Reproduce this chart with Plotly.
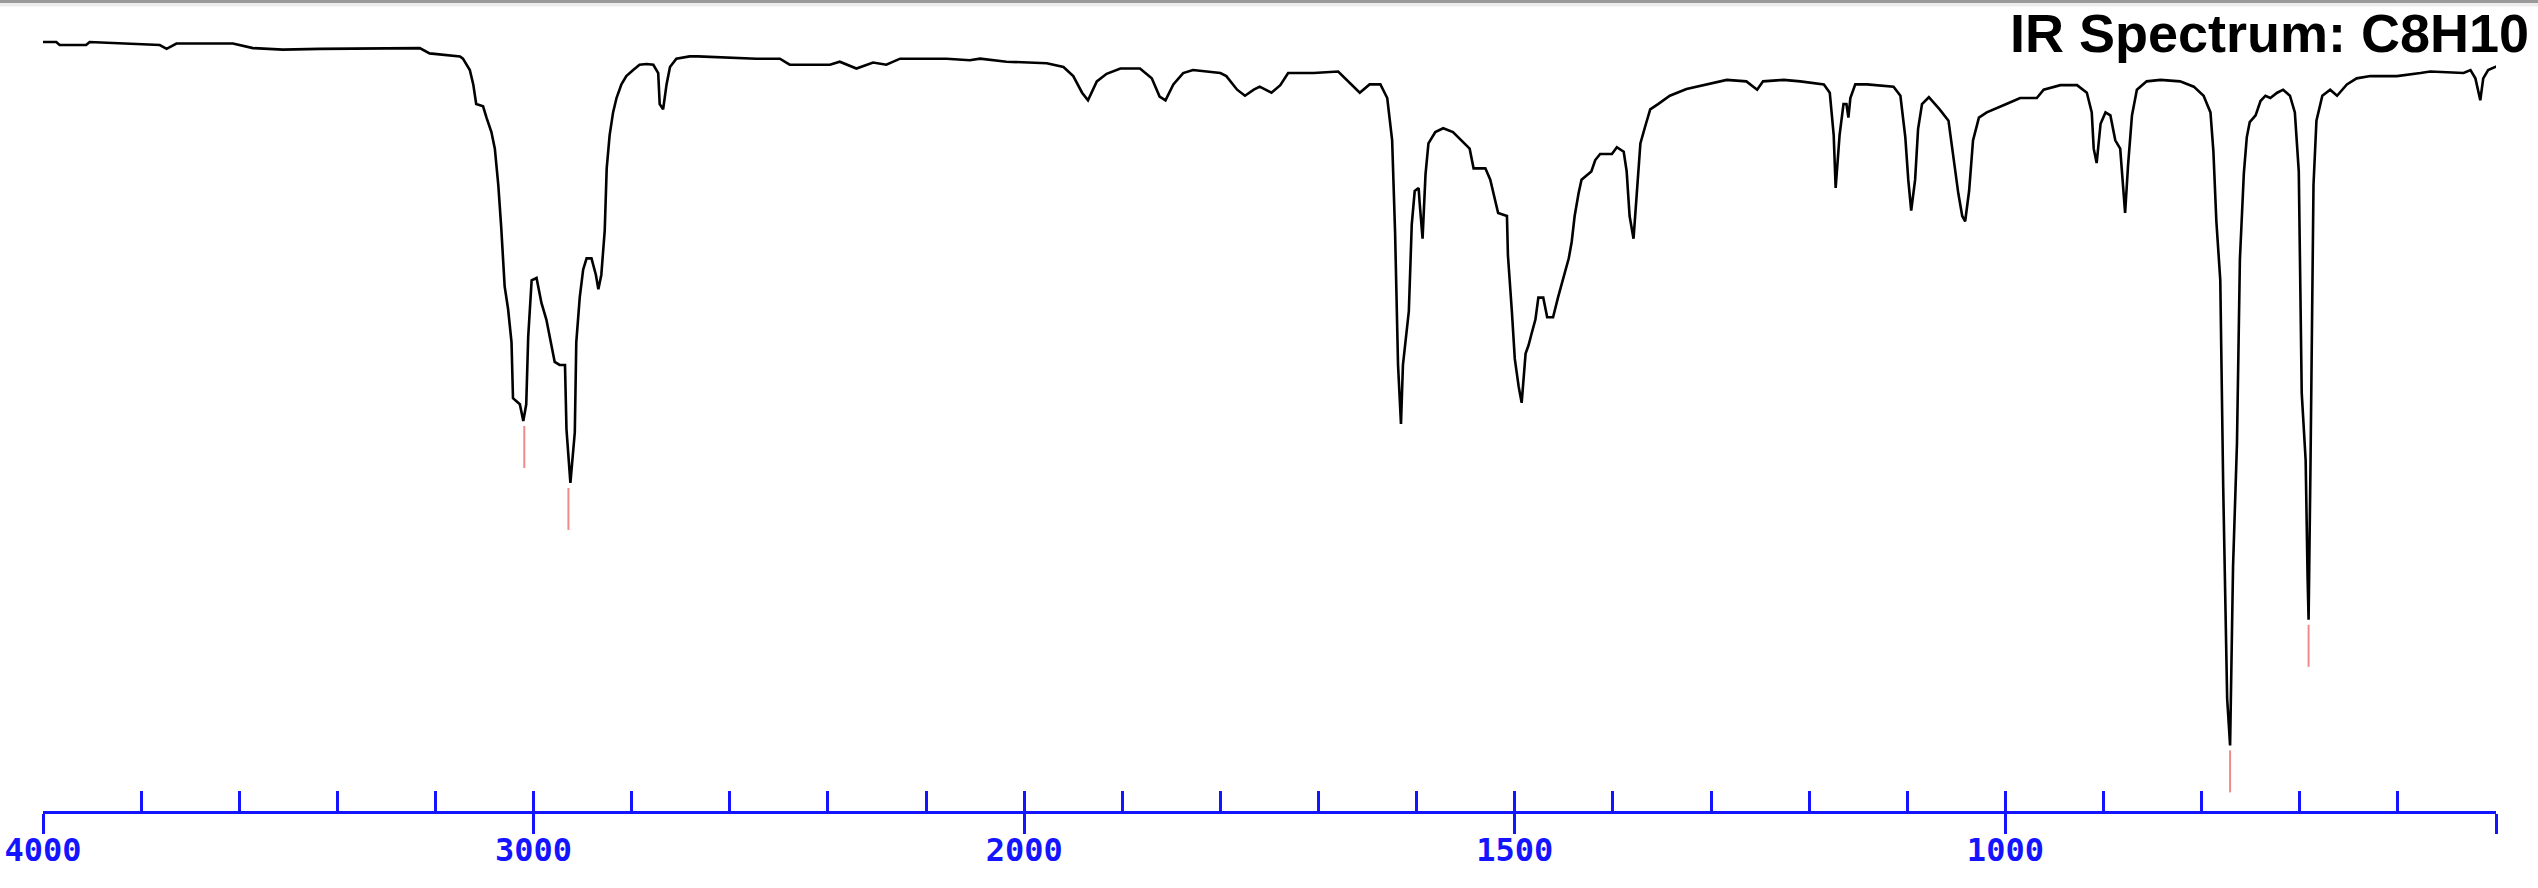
import numpy as np
import plotly.graph_objects as go

# ---------------- data ----------------
wavenumber = [
    4004, 3973, 3966, 3912, 3905, 3816, 3762, 3748, 3728, 3613, 3572, 3511, 3436,
    3232, 3212, 3150, 3144, 3130, 3123, 3117, 3103, 3096, 3086, 3079, 3072, 3066,
    3059, 3052, 3045, 3042, 3028, 3021, 3015, 3011, 3004, 2994, 2984, 2974, 2967,
    2957, 2947, 2936, 2933, 2925, 2916, 2913, 2906, 2899, 2892, 2882, 2873, 2868,
    2862, 2855, 2851, 2845, 2838, 2831, 2821, 2811, 2797, 2784, 2770,
    2756, 2746, 2743, 2736, 2729, 2722, 2709, 2682, 2665, 2546, 2498, 2478, 2430,
    2396, 2376, 2342, 2308, 2281, 2253, 2213, 2158, 2111,
    2090, 2036, 1977, 1960, 1950, 1941, 1935, 1926, 1916, 1902, 1882, 1870, 1862,
    1856, 1848, 1838, 1828, 1800, 1794, 1783, 1775, 1766, 1760, 1748, 1739, 1731,
    1705, 1680, 1668, 1658, 1648, 1637, 1630, 1625, 1622, 1619, 1616, 1614, 1608,
    1605, 1602, 1598, 1597, 1594, 1591, 1588, 1581, 1573, 1563, 1554, 1546, 1542,
    1530, 1525, 1520, 1517, 1508, 1507, 1503, 1500, 1496, 1493, 1489, 1486, 1483,
    1479, 1476, 1471, 1467, 1461, 1456, 1450, 1445, 1442, 1439, 1435, 1432, 1422,
    1418, 1413,
    1401, 1396, 1389, 1386, 1383, 1379, 1376, 1372, 1367, 1362, 1354, 1342, 1325,
    1304, 1284, 1264, 1253, 1247, 1226, 1209, 1185, 1179, 1175, 1173, 1169, 1165,
    1162, 1160, 1158, 1153, 1141, 1114, 1107, 1102, 1099, 1096, 1092, 1089, 1085,
    1078, 1067, 1058, 1053, 1048, 1044, 1041, 1037, 1033, 1027, 1019, 999, 985,
    968, 961, 944, 927, 917, 912, 910, 907, 903, 898, 893, 888, 883, 880, 878,
    875, 871, 866, 856, 842, 822, 808, 798, 791, 788, 785, 781, 778, 774, 771,
    768, 764, 761, 757, 754, 751, 745, 740, 735, 730, 723, 717, 710, 705, 701,
    698, 694, 692, 691, 689, 686, 683, 677, 669, 662, 652, 642, 628, 601, 577,
    567, 533, 526, 521, 516, 513, 508, 499,
]
transmittance = [
    99.7, 99.7, 99.3, 99.3, 99.7, 99.5, 99.3, 98.8, 99.5, 99.5, 98.9, 98.7, 98.8,
    98.9, 98.2, 97.8, 97.5, 96.0, 94.1, 91.5, 91.2, 89.7, 87.8, 85.6, 80.8, 75.2,
    67.4, 64.4, 60.0, 52.6, 51.8, 49.6, 51.8, 60.7, 68.2, 68.5, 65.2, 63.0, 60.7,
    57.4, 57.0, 57.0, 48.5, 41.4, 48.1, 60.0, 65.9, 69.6, 71.1, 71.1, 68.9, 67.0,
    68.9, 74.8, 83.0, 87.4, 90.4, 92.3, 94.1, 95.2, 96.0, 96.7, 96.8,
    96.7, 95.6, 91.5, 90.8, 94.1, 96.4, 97.5, 97.8, 97.8, 97.5, 97.5, 96.7, 96.7,
    96.7, 97.1, 96.2, 97.0, 96.7, 97.5, 97.5, 97.5, 97.3,
    97.5, 97.1, 96.9, 96.4, 95.2, 93.0, 92.0, 94.5, 95.5, 96.2, 96.2, 94.9, 92.5,
    92.0, 94.1, 95.6, 96.0, 95.6, 95.2, 93.4, 92.6, 93.4, 93.8, 93.0, 94.0, 95.6,
    95.6, 95.8, 94.3, 93.0, 94.1, 94.1, 92.3, 86.7, 74.5, 57.0, 49.2, 57.0, 64.1,
    75.6, 80.0, 80.4, 78.5, 73.7, 82.2, 86.3, 87.8, 88.3, 87.8, 86.7, 85.6, 83.0,
    83.0, 81.5, 78.9, 77.1, 76.7, 71.5, 64.1, 57.8, 54.1, 52.0, 58.5, 59.6, 61.1,
    63.0, 65.9, 65.9, 63.3, 63.3, 65.9, 68.9, 71.1, 73.3, 76.7, 79.7, 81.5, 82.6,
    84.1, 84.9,
    84.9, 85.8, 85.2, 82.6, 76.7, 73.7, 79.3, 86.3, 88.6, 90.8, 91.5, 92.6, 93.5,
    94.1, 94.7, 94.5, 93.4, 94.5, 94.7, 94.5, 94.1, 93.0, 87.4, 80.4, 87.4, 91.5,
    91.5, 89.7, 92.3, 94.1, 94.1, 93.8, 92.6, 87.1, 81.5, 77.4, 81.5, 88.2, 91.5,
    92.4, 90.8, 89.3, 84.5, 79.7, 76.7, 76.0, 80.0, 86.7, 89.7, 90.4, 91.5, 92.3,
    92.3, 93.4, 94.0, 94.0, 93.0, 90.4, 85.6, 83.7, 88.9, 90.4, 90.0, 86.7, 85.6,
    81.1, 77.1, 83.4, 90.0, 93.4, 94.5, 94.7, 94.5, 93.8, 92.6, 90.4, 85.2, 76.0,
    68.2, 40.7, 12.9, 6.7, 30.3, 46.6, 71.0, 82.3, 87.1, 89.1, 90.0, 91.9, 92.6,
    92.3, 93.0, 93.4, 92.6, 90.4, 82.6, 53.3, 44.4, 28.8, 23.3, 44.4, 80.8, 89.3,
    92.6, 93.4, 92.6, 94.1, 94.9, 95.2, 95.2, 95.6, 95.8, 95.6, 96.0, 94.9, 92.0,
    94.9, 96.0, 96.5,
]

peak_wavenumber = [3019, 2929, 771, 691]
peak_transmittance = [49.6, 41.4, 6.7, 23.3]

major_ticks = [4000, 3000, 2000, 1500, 1000, 500]
major_labels = ["4000", "3000", "2000", "1500", "1000", ""]
all_ticks = [4000, 3800, 3600, 3400, 3200, 3000, 2800, 2600, 2400, 2200, 2000,
             1900, 1800, 1700, 1600, 1500, 1400, 1300, 1200, 1100, 1000,
             900, 800, 700, 600, 500]

title_text = "IR Spectrum: C8H10"


# ------------- axis scale: 4000-2000 compressed 2x, 2000-500 linear -------------
def axis_pos(wn):
    wn = np.asarray(wn, dtype=float)
    return np.where(wn >= 2000, (4000 - wn) / 2.0, 1000 + (2000 - wn))


BLUE = "#1414ff"
X_RANGE = [0, 2500]
Y_RANGE = [-1.98, 105.26]
W, H = 2538, 888
ML, MR, MT, MB = 43, 42, 0, 77
plot_w = W - ML - MR
plot_h = H - MT - MB
px_per_T = plot_h / (Y_RANGE[1] - Y_RANGE[0])

fig = go.Figure()

fig.add_trace(go.Scatter(
    x=axis_pos(wavenumber), y=transmittance,
    mode="lines", line=dict(color="black", width=2.6),
    hoverinfo="skip", showlegend=False,
))

# red peak markers, sitting ~26 px below each minimum
marker_offset = 26 / px_per_T
fig.add_trace(go.Scatter(
    x=axis_pos(peak_wavenumber),
    y=[t - marker_offset for t in peak_transmittance],
    mode="markers",
    marker=dict(symbol="line-ns", size=30,
                line=dict(color="#f08a8a", width=2)),
    xaxis="x2", yaxis="y",
    hoverinfo="skip", showlegend=False,
))

tick_font = dict(family="DejaVu Sans Mono", size=32, color=BLUE, weight="bold")

fig.update_layout(
    width=W, height=H,
    margin=dict(l=ML, r=MR, t=MT, b=MB, pad=0),
    paper_bgcolor="white", plot_bgcolor="white",
    showlegend=False,
    xaxis=dict(
        range=X_RANGE, tickmode="array",
        tickvals=list(axis_pos(major_ticks)), ticktext=major_labels,
        ticks="outside", ticklen=20, tickwidth=3, tickcolor=BLUE,
        showline=True, linecolor=BLUE, linewidth=3,
        showgrid=False, zeroline=False, tickfont=tick_font,
        ticklabelstandoff=-11,
        fixedrange=True,
    ),
    xaxis2=dict(
        range=X_RANGE, overlaying="x", anchor="y", side="bottom",
        tickmode="array", tickvals=list(axis_pos(all_ticks)),
        ticks="inside", ticklen=20, tickwidth=3, tickcolor=BLUE,
        showticklabels=False, showline=False,
        showgrid=False, zeroline=False, fixedrange=True,
    ),
    yaxis=dict(range=Y_RANGE, visible=False, showgrid=False,
               zeroline=False, fixedrange=True),
    shapes=[
        dict(type="rect", xref="paper", yref="paper",
             x0=-0.05, x1=1.05, y0=1 - 3 / plot_h, y1=1.01,
             fillcolor="#9a9a9a", line=dict(width=0), layer="above"),
        dict(type="rect", xref="paper", yref="paper",
             x0=-0.05, x1=1.05, y0=1 - 6.5 / plot_h, y1=1 - 3 / plot_h,
             fillcolor="#ececec", line=dict(width=0), layer="above"),
    ],
    annotations=[
        dict(text="<b>" + title_text + "</b>", showarrow=False,
             xref="paper", yref="paper",
             x=(2531 - ML) / plot_w, xanchor="right",
             y=1 - 33 / plot_h, yanchor="middle",
             font=dict(family="Liberation Sans, Arial", size=54, color="black")),
    ],
)

fig.write_html(
    "out.html",
    config={"displayModeBar": False, "staticPlot": True},
    post_script="document.body.style.margin='0';document.body.style.overflow='hidden';",
)
